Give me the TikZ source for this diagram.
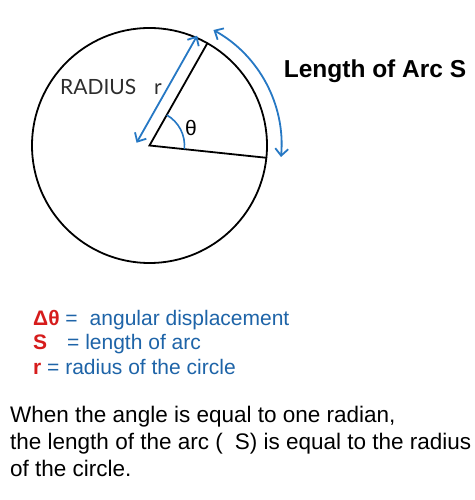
\documentclass[tikz,border=0pt]{standalone}
\usepackage{fontspec}
\setmainfont{Liberation Sans}
\newfontfamily\latofont{Lato}
\usetikzlibrary{arrows.meta,calc}
\definecolor{arrowblue}{RGB}{38,120,196}
\definecolor{textblue}{RGB}{30,100,168}
\definecolor{keyred}{RGB}{214,28,28}
\definecolor{labelgray}{RGB}{45,45,45}
\tikzset{
  circ/.style={draw=black, line width=1.8pt},
  blue arrow/.style={draw=arrowblue, line width=1.8pt, {Straight Barb[length=7pt,width=13pt]}-{Straight Barb[length=7pt,width=13pt]}},
  txt/.style={inner sep=0pt, anchor=base west},
}
\begin{document}
\begin{tikzpicture}[x=1pt,y=1pt]
\useasboundingbox[fill=white] (0,0) rectangle (474,500);
% circle and radii
\coordinate (O) at (149.5,354.5);
\draw[circ] (O) circle[radius=117.5];
\coordinate (A) at ($(O)+(60.5:117.5)$);
\coordinate (B) at ($(O)+(-6:117.5)$);
\draw[circ, line cap=round] (A) -- (O) -- (B);
% angle arc
\coordinate (T0) at ($(O)+(-6:35)$);
\draw[draw=arrowblue, line width=1.6pt] (T0) arc[start angle=-6, end angle=60.5, radius=35];
\node[inner sep=0pt, font=\fontsize{21}{21}\selectfont] (theta) at (191,372) {θ};
% radius double arrow
\coordinate (R1) at ($(O)+(60.5:-4)+(150.5:12.6)$);
\coordinate (R2) at ($(O)+(60.5:119)+(150.5:12.6)$);
\draw[blue arrow] (R1) -- (R2);
% arc length double arrow
\coordinate (S1) at ($(O)+(61:132)$);
\draw[blue arrow] (S1) arc[start angle=61, end angle=-5, radius=132];
% labels
\node[txt, text=labelgray, font=\latofont\fontsize{21}{21}\selectfont] (radius) at (60,405) {RADIUS};
\node[txt, text=labelgray, font=\latofont\fontsize{21}{21}\selectfont] (rlabel) at (154,405) {r};
\node[inner sep=0pt, anchor=base, font=\bfseries\fontsize{24.5}{24.5}\selectfont] (title) at (375,422) {Length of Arc S};
% legend
\node[txt, text=textblue, font=\fontsize{21}{21}\selectfont] (leg1) at (33,174.3)
  {{\bfseries\color{keyred}Δθ} =\hspace{12pt}angular displacement};
\node[txt, text=textblue, font=\fontsize{21}{21}\selectfont] (leg2) at (33,150)
  {{\bfseries\color{keyred}S}\hspace{20pt}= length of arc};
\node[txt, text=textblue, font=\fontsize{21}{21}\selectfont] (leg3) at (33,125)
  {{\bfseries\color{keyred}r} = radius of the circle};
% paragraph
\node[txt, font=\fontsize{22.5}{22.5}\selectfont] (p1) at (10,77) {When the angle is equal to one radian,};
\node[txt, font=\fontsize{22.5}{22.5}\selectfont] (p2) at (10,50) {the length of the arc (\hspace{12pt}S) is equal to the radius};
\node[txt, font=\fontsize{22.5}{22.5}\selectfont] (p3) at (10,23) {of the circle.};
\end{tikzpicture}
\end{document}
